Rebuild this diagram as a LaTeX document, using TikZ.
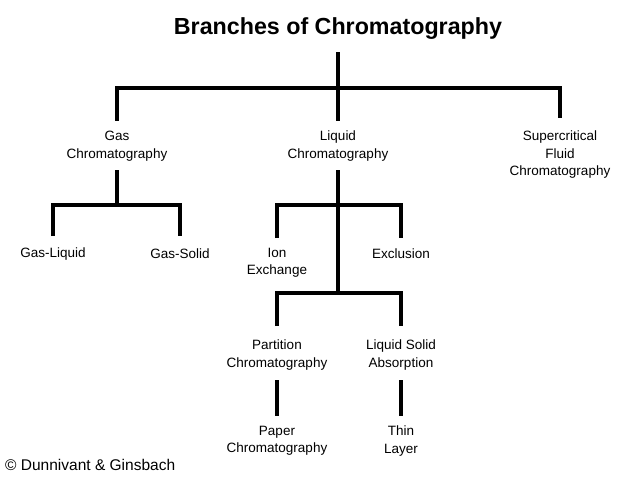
\documentclass[tikz,border=0pt]{standalone}
\usepackage{fontspec}
\setmainfont{Liberation Sans}
\begin{document}
\begin{tikzpicture}[x=1pt,y=-1pt,
  ln/.style={line width=3.2pt},
  lb/.style={align=center,font=\fontsize{13.5}{17.5}\selectfont,inner sep=1pt}]
\useasboundingbox (0,0) rectangle (638,479);
\node[font=\bfseries\fontsize{15.5}{18}\selectfont,scale=1.5] (t) at (338,29) {Branches of Chromatography};
\coordinate (top) at (338,52);
\coordinate (hl) at (117,88); \coordinate (hr) at (560,88); \coordinate (hm) at (338,88);
\node[lb] (gc) at (117,146) {Gas\\Chromatography};
\node[lb] (lc) at (338,146) {Liquid\\Chromatography};
\node[lb] (sf) at (560,155) {Supercritical\\Fluid\\Chromatography};
\node[lb] (gl) at (53,254) {Gas-Liquid};
\node[lb] (gs) at (180,254) {Gas-Solid};
\node[lb] (ie) at (277,263) {Ion\\Exchange};
\node[lb] (ex) at (401,254) {Exclusion};
\node[lb] (pc) at (277,355) {Partition\\Chromatography};
\node[lb] (ls) at (401,355) {Liquid Solid\\Absorption};
\node[lb] (pp) at (277,441) {Paper\\Chromatography};
\node[lb] (tl) at (401,441) {Thin\\Layer};
\node[lb,anchor=west,font=\fontsize{15.5}{18}\selectfont] (c) at (4,465) {© Dunnivant \& Ginsbach};
\draw[ln] (top) -- (hm);
\draw[ln] (gc.north |- hl) -- (hr -| sf.north);
\draw[ln] (117,86.4) -- (117,121);
\draw[ln] (338,88) -- (338,121);
\draw[ln] (560,86.4) -- (560,118);
\draw[ln] (117,170) -- (117,205);
\draw[ln] (53,236) -- (53,205) -- (180,205) -- (180,236);
\draw[ln] (338,170) -- (338,293);
\draw[ln] (277,238) -- (277,205) -- (401,205) -- (401,238);
\draw[ln] (277,326) -- (277,293) -- (401,293) -- (401,326);
\draw[ln] (277,380) -- (277,416);
\draw[ln] (401,380) -- (401,416);
\end{tikzpicture}
\end{document}
